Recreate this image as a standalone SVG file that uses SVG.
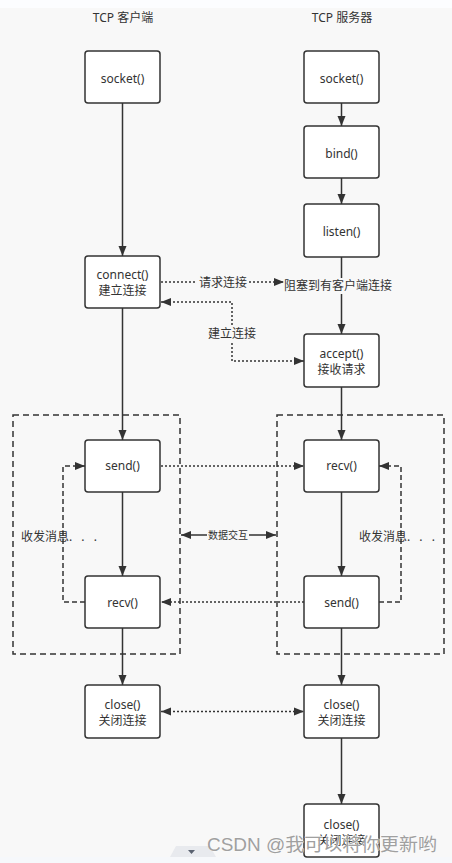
<svg xmlns="http://www.w3.org/2000/svg" width="452" height="863" viewBox="0 0 452 863">
<style>
.bg{fill:#f8f8f8}
.box rect{fill:#ffffff;stroke:#333333;stroke-width:1.5}
text{font-family:"Noto Sans","Noto Sans CJK SC",sans-serif;font-size:12px;fill:#333333}
.t{text-anchor:middle}
.line{stroke:#333333;stroke-width:1.5;fill:none}
.dot{stroke:#333333;stroke-width:1.5;fill:none;stroke-dasharray:2 2}
.dash{stroke:#333333;stroke-width:1.5;fill:none;stroke-dasharray:5 3}
.frame{stroke:#333333;stroke-width:1.5;fill:none;stroke-dasharray:6 4}
.lblbg{fill:#f8f8f8}
.loop{word-spacing:6px}
</style>
<defs>
<marker id="ah" viewBox="0 0 10 10" refX="10" refY="5" markerWidth="10" markerHeight="10" markerUnits="userSpaceOnUse" orient="auto-start-reverse">
<path d="M0,1 L10,5 L0,9 Z" fill="#333333"/>
</marker>
</defs>
<rect class="bg" x="0" y="0" width="452" height="863"/>
<rect x="0" y="0" width="452" height="8" fill="#fcfdff"/>
<rect x="0" y="857" width="452" height="6" fill="#f6f8fb"/>

<g id="titles">
<text class="t" x="123" y="22">TCP 客户端</text>
<text class="t" x="342" y="22">TCP 服务器</text>
</g>

<g id="frames">
<rect class="frame" x="13" y="415" width="167" height="239"/>
<rect class="frame" x="277" y="415" width="167" height="239"/>
</g>

<g id="connectors">
<line class="line" x1="122.5" y1="103" x2="122.5" y2="256" marker-end="url(#ah)"/>
<line class="line" x1="122.5" y1="308" x2="122.5" y2="440" marker-end="url(#ah)"/>
<line class="line" x1="122.5" y1="492" x2="122.5" y2="576" marker-end="url(#ah)"/>
<line class="line" x1="122.5" y1="628" x2="122.5" y2="685" marker-end="url(#ah)"/>
<line class="line" x1="341.5" y1="103" x2="341.5" y2="126" marker-end="url(#ah)"/>
<line class="line" x1="341.5" y1="178" x2="341.5" y2="204" marker-end="url(#ah)"/>
<line class="line" x1="341.5" y1="257" x2="341.5" y2="334" marker-end="url(#ah)"/>
<line class="line" x1="341.5" y1="387" x2="341.5" y2="440" marker-end="url(#ah)"/>
<line class="line" x1="341.5" y1="492" x2="341.5" y2="576" marker-end="url(#ah)"/>
<line class="line" x1="341.5" y1="628" x2="341.5" y2="685" marker-end="url(#ah)"/>
<line class="line" x1="341.5" y1="738" x2="341.5" y2="804" marker-end="url(#ah)"/>
<line class="dot" x1="161" y1="282" x2="284" y2="282" marker-end="url(#ah)"/>
<polyline class="dot" points="161,302 232,302 232,361 304,361" marker-start="url(#ah)" marker-end="url(#ah)"/>
<line class="dot" x1="161" y1="466" x2="304" y2="466" marker-end="url(#ah)"/>
<line class="dot" x1="304" y1="602" x2="161" y2="602" marker-end="url(#ah)"/>
<polyline class="dash" points="85,602 63,602 63,466 85,466" marker-end="url(#ah)"/>
<polyline class="dash" points="379,602 401,602 401,466 379,466" marker-end="url(#ah)"/>
<line class="line" x1="181" y1="535" x2="276" y2="535" marker-start="url(#ah)" marker-end="url(#ah)"/>
<line class="dot" x1="161" y1="711.5" x2="304" y2="711.5" marker-start="url(#ah)" marker-end="url(#ah)"/>
</g>

<g id="labels">
<rect class="lblbg" x="197" y="275" width="52" height="15"/>
<text class="t" x="223" y="287">请求连接</text>
<rect class="lblbg" x="284" y="278" width="109" height="16"/>
<text x="284" y="290">阻塞到有客户端连接</text>
<rect class="lblbg" x="206" y="326" width="52" height="16"/>
<text class="t" x="232" y="338">建立连接</text>
<rect class="lblbg" x="207" y="529" width="42" height="12"/>
<text class="t" x="228" y="539" style="font-size:10px">数据交互</text>
<text class="loop" x="21" y="541">收发消息. . .</text>
<text class="loop" x="359" y="541">收发消息. . .</text>
</g>

<g id="client-socket" class="box"><rect x="85" y="51" width="75" height="52" rx="3"/><text class="t" x="122.5" y="83">socket()</text></g>
<g id="client-connect" class="box"><rect x="85" y="256" width="75" height="52" rx="3"/><text class="t" x="122.5" y="279">connect()</text><text class="t" x="122.5" y="295">建立连接</text></g>
<g id="client-send" class="box"><rect x="85" y="440" width="75" height="52" rx="3"/><text class="t" x="122.5" y="470">send()</text></g>
<g id="client-recv" class="box"><rect x="85" y="576" width="75" height="52" rx="3"/><text class="t" x="122.5" y="607">recv()</text></g>
<g id="client-close" class="box"><rect x="85" y="685" width="75" height="53" rx="3"/><text class="t" x="122.5" y="709">close()</text><text class="t" x="122.5" y="725">关闭连接</text></g>

<g id="server-socket" class="box"><rect x="304" y="51" width="75" height="52" rx="3"/><text class="t" x="341.5" y="83">socket()</text></g>
<g id="server-bind" class="box"><rect x="304" y="126" width="75" height="52" rx="3"/><text class="t" x="341.5" y="158">bind()</text></g>
<g id="server-listen" class="box"><rect x="304" y="204" width="75" height="53" rx="3"/><text class="t" x="341.5" y="236">listen()</text></g>
<g id="server-accept" class="box"><rect x="304" y="334" width="75" height="53" rx="3"/><text class="t" x="341.5" y="358">accept()</text><text class="t" x="341.5" y="374">接收请求</text></g>
<g id="server-recv" class="box"><rect x="304" y="440" width="75" height="52" rx="3"/><text class="t" x="341.5" y="470">recv()</text></g>
<g id="server-send" class="box"><rect x="304" y="576" width="75" height="52" rx="3"/><text class="t" x="341.5" y="607">send()</text></g>
<g id="server-close" class="box"><rect x="304" y="685" width="75" height="53" rx="3"/><text class="t" x="341.5" y="709">close()</text><text class="t" x="341.5" y="725">关闭连接</text></g>
<g id="server-close2" class="box"><rect x="304" y="804" width="75" height="53" rx="3"/><text class="t" x="341.5" y="829">close()</text><text class="t" x="341.5" y="845">关闭连接</text></g>

<g id="ui">
<path d="M170,857 L176,846 L210,846 L216,857 Z" fill="#e8eaee"/>
<path d="M188,850 L195,850 L191.5,854 Z" fill="#5a6270"/>
<text x="207" y="851" textLength="230" lengthAdjust="spacingAndGlyphs" style="font-size:18px;fill:#a0a0a0;stroke:#ffffff;stroke-width:0.6;paint-order:stroke;font-family:'Liberation Sans','Noto Sans CJK SC',sans-serif">CSDN @我可以将你更新哟</text>
</g>
</svg>
